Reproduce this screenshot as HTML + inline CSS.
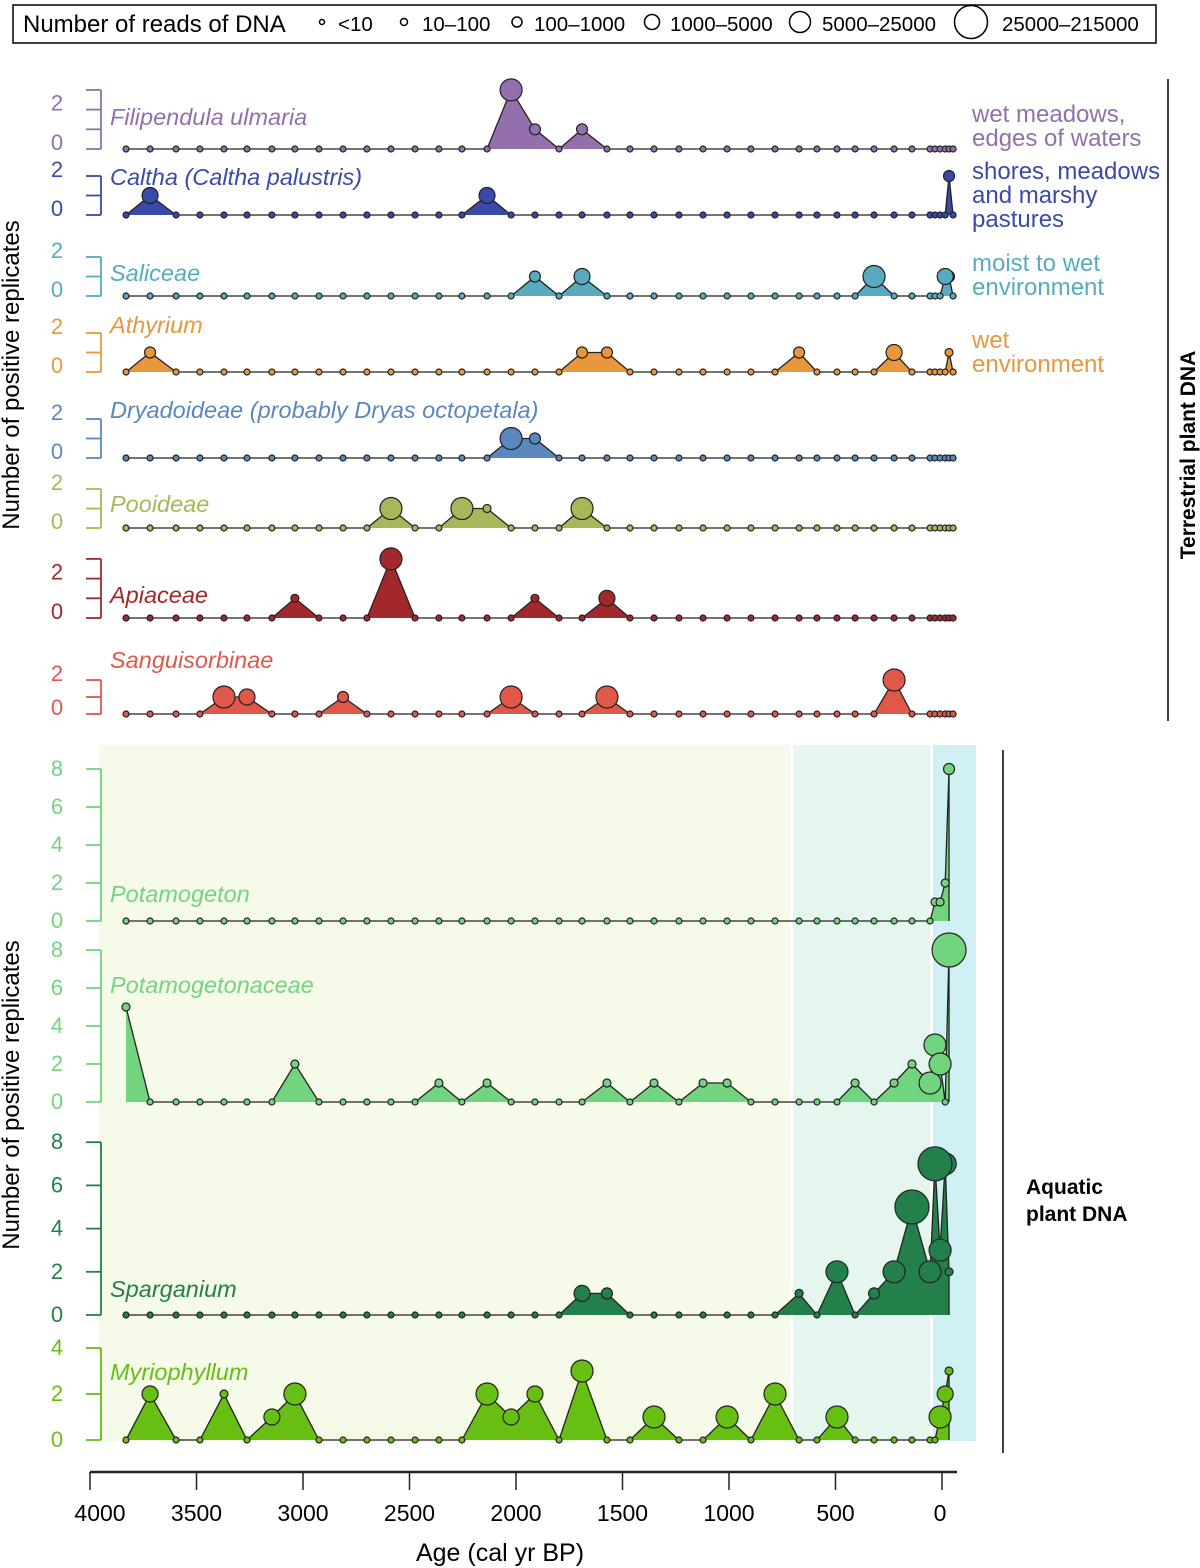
<!DOCTYPE html>
<html><head><meta charset="utf-8">
<style>
body{margin:0;background:#fff;}
svg{display:block;font-family:"Liberation Sans",sans-serif;}
</style></head>
<body>
<svg id="chart" width="1200" height="1568" viewBox="0 0 1200 1568" xmlns="http://www.w3.org/2000/svg">
  <rect x="0" y="0" width="1200" height="1568" fill="#fff"/>
  <g>
    <rect x="13" y="5" width="1143" height="38" fill="#fff" stroke="#000" stroke-width="1.5"/>
    <text x="23" y="32" font-size="24">Number of reads of DNA</text>
  </g>
  <rect x="99" y="745" width="691" height="696" fill="#f6fae9"/>
  <rect x="793" y="745" width="137" height="696" fill="#e4f6ee"/>
  <rect x="933" y="745" width="43" height="696" fill="#d0f0f3"/>
  <g id="rows"></g>
  <g id="xaxis"></g>
  <text x="500" y="1561" font-size="25" text-anchor="middle">Age (cal yr BP)</text>
  <text transform="translate(19,375) rotate(-90)" font-size="24" text-anchor="middle">Number of positive replicates</text>
  <text transform="translate(19,1095) rotate(-90)" font-size="24" text-anchor="middle">Number of positive replicates</text>
  <line x1="1168" y1="79" x2="1168" y2="721" stroke="#000" stroke-width="1.5"/>
  <text transform="translate(1195,455) rotate(-90)" font-size="21" font-weight="bold" text-anchor="middle">Terrestrial plant DNA</text>
  <line x1="1003" y1="750" x2="1003" y2="1453" stroke="#000" stroke-width="1.5"/>
  <text x="1026" y="1194" font-size="21" font-weight="bold">Aquatic</text>
  <text x="1026" y="1221" font-size="21" font-weight="bold">plant DNA</text>
</svg>
<script>
// ages of samples (cal yr BP)
const ages = [3831,3718,3596,3484,3371,3263,3146,3038,2925,2812,2700,2587,2474,2362,2254,2136,2023,1911,1798,1690,1573,1465,1352,1235,1122,1009,897,784,671,587,493,408,319,225,141,56,33,9,-15,-33,-52];
const xTicks = [4000,3500,3000,2500,2000,1500,1000,500,0];
const legendLabels = ["<10","10\u2013100","100\u20131000","1000\u20135000","5000\u201325000","25000\u2013215000"];
// per-row replicate values [index, value, sizeClass]; unspecified = 0, class 0
const filipendula = [[16,3,4],[17,1,2],[19,1,2]];
const caltha = [[1,1,3],[15,1,3],[39,2,2]];
const saliceae = [[17,1,2],[19,1,3],[32,1,4],[38,1,3],[39,1,2]];
const athyrium = [[1,1,2],[19,1,2],[20,1,2],[28,1,2],[33,1,3],[39,1,1]];
const dryadoideae = [[16,1,4],[17,1,2]];
const pooideae = [[11,1,4],[14,1,4],[15,1,1],[19,1,4]];
const apiaceae = [[7,1,1],[11,3,4],[17,1,1],[20,1,3]];
const sanguisorbinae = [[4,1,4],[5,1,3],[9,1,2],[16,1,4],[20,1,4],[33,2,4]];
const potamogeton = [[36,1,1],[37,1,1],[38,2,1],[39,8,2]];
const potamogetonaceae = [[0,5,1],[7,2,1],[13,1,1],[15,1,1],[20,1,1],[22,1,1],[24,1,1],[25,1,1],[31,1,1],[33,1,1],[34,2,1],[35,1,4],[36,3,4],[37,2,4],[39,8,5]];
const sparganium = [[19,1,3],[20,1,2],[28,1,1],[30,2,4],[32,1,2],[33,2,4],[34,5,5],[35,2,4],[36,7,5],[37,3,4],[38,7,4],[39,2,1]];
const myriophyllum = [[1,2,3],[4,2,1],[6,1,3],[7,2,4],[15,2,4],[16,1,3],[17,2,3],[19,3,4],[22,1,4],[25,1,4],[27,2,4],[30,1,4],[37,1,4],[38,2,3],[39,3,1]];

const NS="http://www.w3.org/2000/svg";
function mk(tag,attrs,parent){const e=document.createElementNS(NS,tag);for(const k in attrs)e.setAttribute(k,attrs[k]);(parent||svg).appendChild(e);return e;}
const svg=document.getElementById('chart');
const rowsG=document.getElementById('rows');
const radii=[3,4,5.5,8,11,17];
function xScale(a){return 942-(a)*0.213;}

// legend circles
const legX=[322,404,517,652,800,971];
const legTX=[338,422,534,670,822,1002];
legendLabels.forEach((l,i)=>{
  const c=mk('circle',{cx:legX[i],cy:22,r:radii[i]-0.5,fill:'#fff',stroke:'#000','stroke-width':1.5});
  
  
  const t=mk('text',{x:legTX[i],y:31,'font-size':20.5});
  t.textContent=l;
  
  
});

const rows=[
 {name:'Filipendula ulmaria',id:'filipendula',data:filipendula,base:149,unit:19.7,max:3,ticks:[0,1,2,3],labels:[0,2],color:'#9370ad',ly:125,right:['wet meadows,','edges of waters'],ry:122,n:41},
 {name:'Caltha (Caltha palustris)',id:'caltha',data:caltha,base:215,unit:19.5,max:2,ticks:[0,1,2],labels:[0,2],color:'#3a4aa8',ly:185,right:['shores, meadows','and marshy','pastures'],ry:179,n:41},
 {name:'Saliceae',id:'saliceae',data:saliceae,base:296,unit:19.5,max:2,ticks:[0,1,2],labels:[0,2],color:'#57aabf',ly:281,right:['moist to wet','environment'],ry:271,n:41},
 {name:'Athyrium',id:'athyrium',data:athyrium,base:372,unit:19.5,max:2,ticks:[0,1,2],labels:[0,2],color:'#e8973d',ly:333,right:['wet','environment'],ry:348,n:41},
 {name:'Dryadoideae (probably Dryas octopetala)',id:'dryadoideae',data:dryadoideae,base:458,unit:19.5,max:2,ticks:[0,1,2],labels:[0,2],color:'#5a87bf',ly:418,right:[],n:41},
 {name:'Pooideae',id:'pooideae',data:pooideae,base:528,unit:19.5,max:2,ticks:[0,1,2],labels:[0,2],color:'#a6b85a',ly:512,right:[],n:41},
 {name:'Apiaceae',id:'apiaceae',data:apiaceae,base:618,unit:19.7,max:3,ticks:[0,1,2,3],labels:[0,2],color:'#a3282b',ly:603,right:[],n:41},
 {name:'Sanguisorbinae',id:'sanguisorbinae',data:sanguisorbinae,base:714,unit:17,max:2,ticks:[0,1,2],labels:[0,2],color:'#e0584a',ly:668,right:[],n:41},
 {name:'Potamogeton',id:'potamogeton',data:potamogeton,base:921,unit:19,max:8,ticks:[0,2,4,6,8],labels:[0,2,4,6,8],color:'#72d47f',ly:902,right:[],n:40},
 {name:'Potamogetonaceae',id:'potamogetonaceae',data:potamogetonaceae,base:1102,unit:19,max:8,ticks:[0,2,4,6,8],labels:[0,2,4,6,8],color:'#72d47f',ly:993,right:[],n:40},
 {name:'Sparganium',id:'sparganium',data:sparganium,base:1315,unit:21.6,max:8,ticks:[0,2,4,6,8],labels:[0,2,4,6,8],color:'#23804a',ly:1297,right:[],n:40},
 {name:'Myriophyllum',id:'myriophyllum',data:myriophyllum,base:1440,unit:23,max:4,ticks:[0,2,4],labels:[0,2,4],color:'#66bf12',ly:1380,right:[],n:40}
];

rows.forEach(r=>{
  const g=mk('g',{},rowsG);
  
  
  const vals=new Array(r.n).fill(0), cls=new Array(r.n).fill(0);
  r.data.forEach(d=>{if(d[0]<r.n){vals[d[0]]=d[1];cls[d[0]]=d[2];}});
  const pts=vals.map((v,i)=>[xScale(ages[i]),r.base-v*r.unit]);
  const top=r.base-r.max*r.unit;
  const ax=mk('line',{x1:101,y1:top,x2:101,y2:r.base,stroke:r.color,'stroke-width':1.8},g);
  
  
  r.ticks.forEach(t=>{
    const y=r.base-t*r.unit;
    const tk=mk('line',{x1:86,y1:y,x2:101,y2:y,stroke:r.color,'stroke-width':1.8},g);
    
    
  });
  r.labels.forEach(t=>{
    const y=r.base-t*r.unit;
    const tl=mk('text',{x:57,y:(r.n===41?y+1:y+7),'font-size':22,fill:r.color,'text-anchor':'middle'},g);
    tl.textContent=t;
    
    
  });
  let poly=pts.map(p=>p[0]+','+p[1]).join(' ');
  poly+=' '+pts[pts.length-1][0]+','+r.base+' '+pts[0][0]+','+r.base;
  const area=mk('polygon',{points:poly,fill:r.color},g);
  
  
  const line=mk('polyline',{points:pts.map(p=>p[0]+','+p[1]).join(' '),fill:'none',stroke:'#222','stroke-width':1.3},g);
  
  
  if(r.n===40){
    const last=pts[pts.length-1];
    const dl=mk('line',{x1:last[0],y1:last[1],x2:last[0],y2:r.base,stroke:'#222','stroke-width':1.3},g);
    
    
  }
  const order=pts.map((p,i)=>i).sort((a,b)=>cls[a]-cls[b]);
  order.forEach(i=>{
    const c=mk('circle',{cx:pts[i][0],cy:pts[i][1],r:radii[cls[i]],fill:r.color,stroke:'#222','stroke-width':1.2},g);
    
    
  });
  const nm=mk('text',{x:110,y:r.ly,'font-size':23.5,'font-style':'italic',fill:r.color},g);
  nm.textContent=r.name;
  
  
  r.right.forEach((s,k)=>{
    const t=mk('text',{x:972,y:r.ry+k*24,'font-size':24,fill:r.color},g);
    t.textContent=s;
    
    
  });
});

const xa=document.getElementById('xaxis');
const axl=mk('line',{x1:90,y1:1472,x2:957,y2:1472,stroke:'#222','stroke-width':2.5},xa);


xTicks.forEach(t=>{
  const x=xScale(t);
  const tk=mk('line',{x1:x,y1:1472,x2:x,y2:1490,stroke:'#222','stroke-width':1.5},xa);
  
  
  const tl=mk('text',{x:(t===4000?x+10:(t===0?x-2:x)),y:1521,'font-size':23,'text-anchor':'middle'},xa);
  tl.textContent=t;
  
  
});
</script>
</body></html>
